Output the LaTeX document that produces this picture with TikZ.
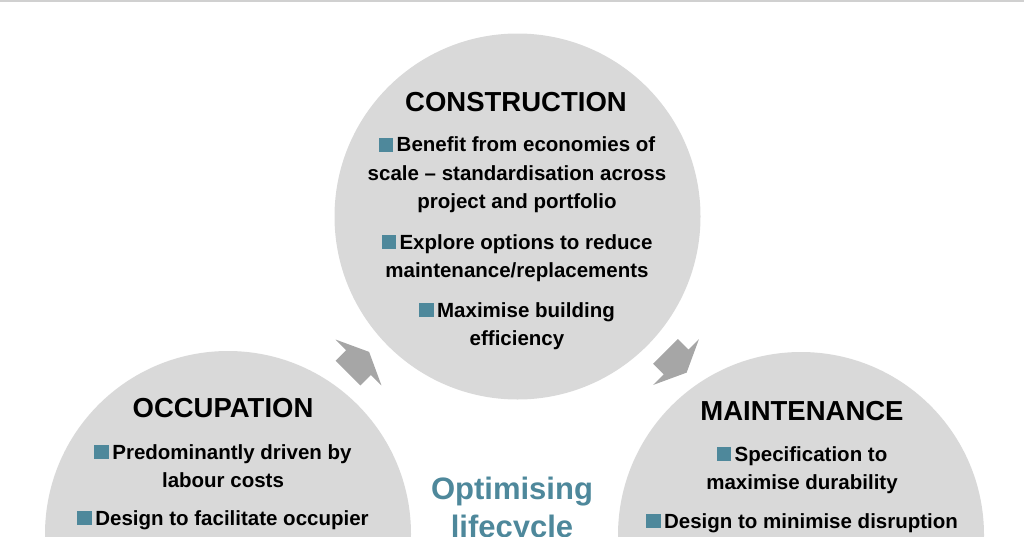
\documentclass[tikz,border=0pt]{standalone}
\usepackage{fontspec}
\setmainfont{Liberation Sans}
\usetikzlibrary{positioning}

\definecolor{lcgrey}{HTML}{D9D9D9}
\definecolor{lcarrow}{HTML}{A6A6A6}
\definecolor{lcteal}{HTML}{4E889B}
\definecolor{lcrule}{HTML}{D0D0D0}
\newcommand{\sqbullet}{\textcolor{lcteal}{\rule{14.5pt}{14pt}}\hspace{3.5pt}}

\begin{document}
\begin{tikzpicture}[x=1pt, y=-1pt,
  phase/.style={circle, fill=lcgrey, minimum size=366pt, inner sep=0pt},
  heading/.style={inner sep=0pt, font=\fontsize{27.5}{30}\selectfont\bfseries},
  item/.style={align=center, inner sep=0pt,
               font=\fontsize{20.5}{28.5}\selectfont\bfseries},
  cyclearrow/.pic={
    \fill[lcarrow] (15,0) -- (0,32.5) -- (0,17.5) -- (-15,17.5)
      -- (-15,-17.5) -- (0,-17.5) -- (0,-32.5) -- cycle;
  },
]
\useasboundingbox (0,0) rectangle (1024,536);
\clip (0,0) rectangle (1024,536);

% ---- phases ----
\node[phase] (construction) at (517.5,216.5) {};
\node[phase] (occupation)   at (228,534) {};
\node[phase] (maintenance)  at (801,535) {};

% ---- cycle arrows ----
\pic[rotate=45]  at (358.5,362.5) {cyclearrow};
\pic[rotate=-45] at (676,362)     {cyclearrow};

% ---- construction ----
\node[heading] (conhead) at (516,102) {CONSTRUCTION};
\node[item] (conscale) at (517,175)
  {\sqbullet Benefit from economies of\\scale -- standardisation across\\project and portfolio};
\node[item] (conmaint) at (517,258)
  {\sqbullet Explore options to reduce\\maintenance/replacements};
\node[item] (coneff) at (517,326)
  {\sqbullet Maximise building\\efficiency};

% ---- occupation ----
\node[heading] (occhead) at (223,408) {OCCUPATION};
\node[item] (occlab) at (223,466)
  {\sqbullet Predominantly driven by\\labour costs};
\node[item] (occfit) at (223,520)
  {\sqbullet Design to facilitate occupier};

% ---- maintenance ----
\node[heading] (mainhead) at (802,411) {MAINTENANCE};
\node[item] (maindur) at (802,470)
  {\sqbullet Specification to\\maximise durability};
\node[item] (maindis) at (802,523)
  {\sqbullet Design to minimise disruption};

% ---- centre title ----
\node[align=center, inner sep=0pt, text=lcteal,
      font=\fontsize{31}{38}\selectfont\bfseries] (title) at (512,510)
  {Optimising\\lifecycle};

% ---- frame edge ----
\draw[lcrule, line width=1.5pt] (0,0.75) -- (1024,0.75);
\end{tikzpicture}
\end{document}
